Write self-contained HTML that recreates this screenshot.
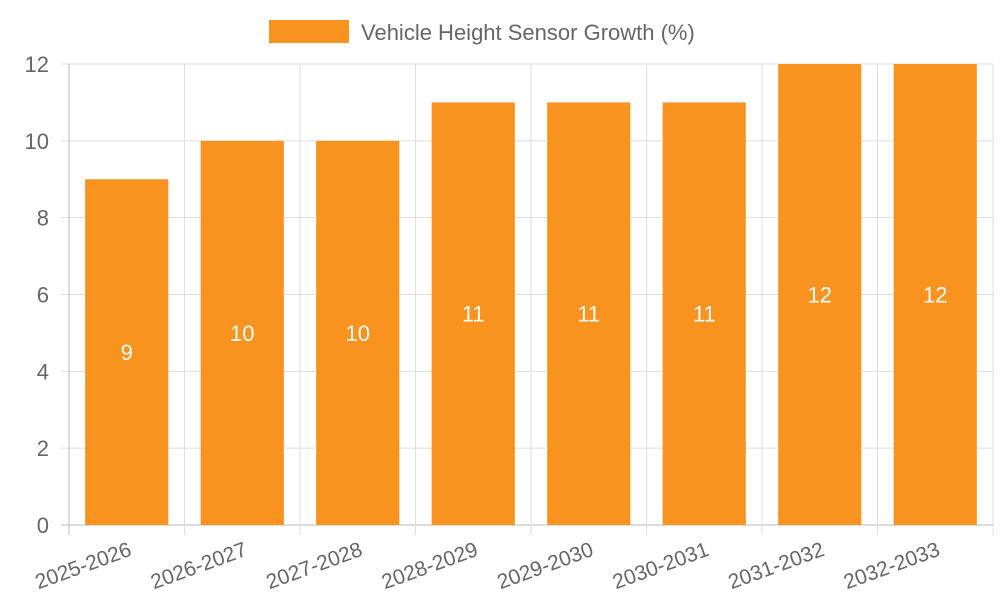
<!DOCTYPE html>
<html><head><meta charset="utf-8"><style>
body{margin:0;background:#fff;}
svg text{font-family:"Liberation Sans",sans-serif;}
</style></head><body>
<svg id="chart" width="1000" height="600">
<g id="grid"></g><g id="bars"></g><g id="labels"></g>
<g>
<rect x="269" y="20" width="80" height="23" fill="#f7931e"></rect>
<text x="361" y="40" font-size="22" fill="#666">Vehicle Height Sensor Growth (%)</text>
</g>
</svg>
<script>
const categories=["2025-2026","2026-2027","2027-2028","2028-2029","2029-2030","2030-2031","2031-2032","2032-2033"];
const values=[9,10,10,11,11,11,12,12];
const yTicks=[0,2,4,6,8,10,12];
const L=69,R=993,T=64,B=525,yMax=12;
const NS="http://www.w3.org/2000/svg";
const bw=(R-L)/categories.length;
const y=v=>B-(v/yMax)*(B-T);
const x=i=>L+i*bw;
function mk(t,a,p){const e=document.createElementNS(NS,t);for(const k in a)e.setAttribute(k,a[k]);p.appendChild(e);return e;}
const g=document.getElementById('grid'),gb=document.getElementById('bars'),gl=document.getElementById('labels');
yTicks.forEach(v=>{
 const l=mk('line',{x1:L-8,x2:R,y1:y(v),y2:y(v),stroke:v===0?'#bbb':'#ddd','stroke-width':1},g);
 
 
 const t=mk('text',{x:L-20,y:y(v)+8,'font-size':22,fill:'#666','text-anchor':'end'},g);
 t.textContent=v;
 
 
});
for(let i=0;i<=categories.length;i++){
 const l=mk('line',{x1:x(i),x2:x(i),y1:T,y2:B+10,stroke:i===0?'#bbb':'#ddd','stroke-width':1},g);
 
 
}
categories.forEach((c,i)=>{
 const cx=x(i)+bw/2,w=bw*0.72;
 const r=mk('rect',{x:cx-w/2,y:y(values[i]),width:w,height:B-y(values[i]),fill:'#f7931e'},gb);
 
 
 const v=mk('text',{x:cx,y:(y(values[i])+B)/2+8,'font-size':22,fill:'#fff','text-anchor':'middle'},gl);
 v.textContent=values[i];
 
 
 const t=mk('text',{x:cx+6,y:B+30,'font-size':21,fill:'#666','text-anchor':'end',transform:`rotate(-20 ${cx+6} ${B+30})`},gl);
 t.textContent=c;
 
 
});
</script>
</body></html>
